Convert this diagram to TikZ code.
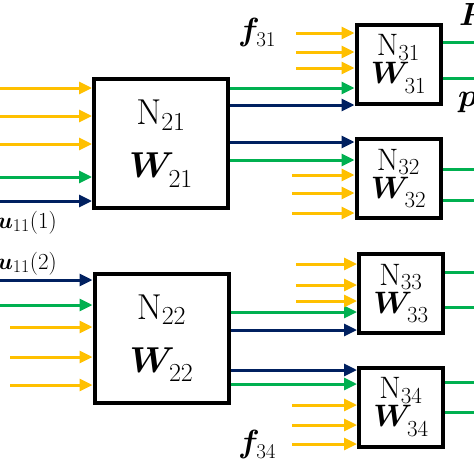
\RequirePackage{fix-cm}
\documentclass[tikz,border=0pt]{standalone}
\usepackage{bm}
\usetikzlibrary{arrows.meta}
\DeclareMathSizes{36}{36}{26}{20}
\DeclareMathSizes{31}{31}{23}{17}
\DeclareMathSizes{32}{32}{21}{15}
\DeclareMathSizes{23}{23}{18}{13}
\definecolor{yel}{HTML}{FFC000}
\definecolor{grn}{HTML}{00B050}
\definecolor{nvy}{HTML}{002060}
\newcommand{\lowsub}[2]{_{\lower#1\hbox{$\scriptstyle #2$}}}
\tikzset{
  arr/.style={line width=3pt, -{Triangle[length=13pt,width=12pt]}},
  yarr/.style={arr, draw=yel},
  garr/.style={arr, draw=grn},
  narr/.style={arr, draw=nvy},
  gline/.style={draw=grn, line width=3pt},
  bigbox/.style={draw=black, line width=4pt, fill=white, minimum width=134pt, minimum height=129pt, align=center, inner sep=0pt, font=\fontsize{36}{40}\selectfont},
  smallbox/.style={draw=black, line width=4pt, fill=white, minimum width=84pt, minimum height=79pt, align=center, inner sep=0pt, font=\fontsize{31}{28}\selectfont},
  lbl/.style={inner sep=0pt, font=\fontsize{32}{32}\selectfont},
  slbl/.style={inner sep=0pt, font=\fontsize{23}{23}\selectfont},
}
\begin{document}
\begin{tikzpicture}[x=1pt,y=-1pt]
\useasboundingbox (0,0) rectangle (474,474);
\fill[white] (0,0) rectangle (474,474);
% boxes
\node[bigbox] (N21) at (161,143.5) {$\mathrm{N}_{21}$\\[13pt]$\bm{W}\lowsub{4pt}{21}$};
\node[bigbox] (N22) at (161.5,338) {$\mathrm{N}_{22}$\\[13pt]$\bm{W}\lowsub{4pt}{22}$};
\node[smallbox] (N31) at (398.5,64) {$\mathrm{N}_{31}$\\$\bm{W}\lowsub{5pt}{31}$};
\node[smallbox] (N32) at (398.5,178.5) {$\mathrm{N}_{32}$\\$\bm{W}\lowsub{5pt}{32}$};
\node[smallbox] (N33) at (401,293.5) {$\mathrm{N}_{33}$\\$\bm{W}\lowsub{5pt}{33}$};
\node[smallbox] (N34) at (401,407) {$\mathrm{N}_{34}$\\$\bm{W}\lowsub{5pt}{34}$};
% inputs of N21
\foreach \y/\s/\x in {88/yarr/-5,116/yarr/-5,144/yarr/-5,177/garr/-5,201/narr/-5}{
  \coordinate (a\y) at (\x,\y);
  \draw[\s] (a\y) -- (a\y -| N21.west);
}
% inputs of N22
\foreach \y/\s/\x in {280/narr/-5,305/garr/-5,327/yarr/10,357/yarr/10,385/yarr/10}{
  \coordinate (a\y) at (\x,\y);
  \draw[\s] (a\y) -- (a\y -| N22.west);
}
% N21 -> N31, N32
\foreach \y/\s/\t in {88/garr/N31,105/narr/N31,142/narr/N32,160/garr/N32}{
  \coordinate (r\y) at (0,\y);
  \draw[\s] (N21.east |- r\y) -- (\t.west |- r\y);
}
% N22 -> N33, N34
\foreach \y/\s/\t in {312/garr/N33,330/narr/N33,370/narr/N34,384/garr/N34}{
  \coordinate (r\y) at (0,\y);
  \draw[\s] (N22.east |- r\y) -- (\t.west |- r\y);
}
% yellow inputs of third layer
\foreach \y/\x/\t in {33/296/N31,52/296/N31,68/296/N31,175/292/N32,193/292/N32,213/292/N32,264/296/N33,285/296/N33,301/296/N33,405/292/N34,425/292/N34,444/292/N34}{
  \coordinate (b\y) at (\x,\y);
  \draw[yarr] (b\y) -- (b\y -| \t.west);
}
% outputs
\foreach \y/\t in {42/N31,78/N31,169/N32,200/N32,272/N33,307/N33,382/N34,412/N34}{
  \coordinate (o\y) at (485,\y);
  \draw[gline] (\t.east |- o\y) -- (o\y);
}
% labels
\node[lbl, anchor=base west] (f31) at (238,40) {$\bm{f}\lowsub{2pt}{31}$};
\node[lbl, anchor=base west] (f34) at (238,452) {$\bm{f}\lowsub{2pt}{34}$};
\node[slbl, anchor=base east] (u1) at (57,228) {$\bm{u}_{11}(1)$};
\node[slbl, anchor=base east] (u2) at (57,269) {$\bm{u}_{11}(2)$};
\node[lbl, anchor=base west] (P1) at (459,25) {$\bm{P}$};
\node[lbl, anchor=base west] (p2) at (458,106) {$\bm{p}$};
\end{tikzpicture}
\end{document}
